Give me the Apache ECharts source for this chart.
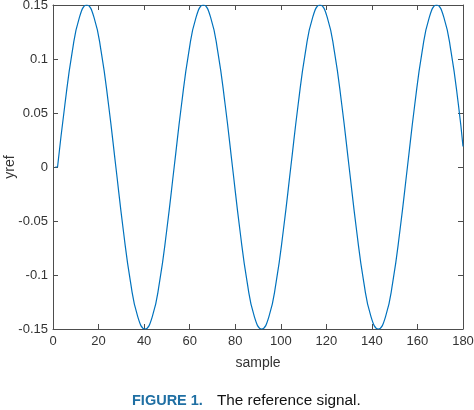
<!DOCTYPE html>
<html>
<head>
<meta charset="utf-8">
<script src="https://cdn.jsdelivr.net/npm/echarts@6/dist/echarts.min.js"></script>
<style>
html,body{margin:0;padding:0;background:#fff;}
#chart{width:474px;height:410px;}
</style>
</head>
<body>
<div id="chart"></div>
<script>
// Flat start of the signal
const startSamples = [1, 2];
const startValues = [0, 0];
// Reference signal samples (x) and values (yref)
const samples = [2, 5.2, 8.4, 11.6, 14.8, 18, 21.2, 24.4, 27.6, 30.8, 34, 37.2, 40.4, 43.6, 46.8,
  50, 53.2, 56.4, 59.6, 62.8, 66, 69.2, 72.4, 75.6, 78.8, 82, 85.2, 88.4, 91.6, 94.8,
  98, 101.2, 104.4, 107.6, 110.8, 114, 117.2, 120.4, 123.6, 126.8, 130, 133.2, 136.4, 139.6, 142.8,
  146, 149.2, 152.4, 155.6, 158.8, 162, 165.2, 168.4, 171.6, 174.8, 178, 180];
const yref = [0, 0.0574, 0.1061, 0.1386, 0.15, 0.1386, 0.1061, 0.0574, 0, -0.0574, -0.1061, -0.1386, -0.15, -0.1386, -0.1061,
  -0.0574, 0, 0.0574, 0.1061, 0.1386, 0.15, 0.1386, 0.1061, 0.0574, 0, -0.0574, -0.1061, -0.1386, -0.15, -0.1386,
  -0.1061, -0.0574, 0, 0.0574, 0.1061, 0.1386, 0.15, 0.1386, 0.1061, 0.0574, 0, -0.0574, -0.1061, -0.1386, -0.15,
  -0.1386, -0.1061, -0.0574, 0, 0.0574, 0.1061, 0.1386, 0.15, 0.1386, 0.1061, 0.0574, 0.019];
const xTicks = [0, 20, 40, 60, 80, 100, 120, 140, 160, 180];
const yTicks = [-0.15, -0.1, -0.05, 0, 0.05, 0.1, 0.15];
const xLabel = 'sample';
const yLabel = 'yref';
const captionBold = 'FIGURE 1.';
const captionText = 'The reference signal.';

const chart = echarts.init(document.getElementById('chart'), null, {renderer: 'canvas'});
const axisColor = '#4d4d4d';
const font = 'Liberation Sans, Arial, sans-serif';
const lineColor = '#0072BD';

function xAxisCfg(pos, show) {
  return {
    type: 'value', position: pos, min: 0, max: 180, interval: 20,
    axisLine: {show: true, onZero: false, lineStyle: {color: axisColor, width: 1}},
    axisTick: {show: true, inside: true, length: 5, lineStyle: {color: axisColor}},
    axisLabel: {show: show, color: '#333', fontSize: 13, fontFamily: font, margin: 6},
    splitLine: {show: false},
    name: show ? xLabel : '', nameLocation: 'middle', nameGap: 27, nameMoveOverlap: false,
    nameTextStyle: {color: '#333', fontSize: 14, fontFamily: font}
  };
}
function yAxisCfg(pos, show) {
  return {
    type: 'value', position: pos, min: -0.15, max: 0.15, interval: 0.05,
    axisLine: {show: true, onZero: false, lineStyle: {color: axisColor, width: 1}},
    axisTick: {show: true, inside: true, length: 5, lineStyle: {color: axisColor}},
    axisLabel: {show: show, color: '#333', fontSize: 13, fontFamily: font, margin: 5,
      formatter: function (v) { return String(Math.round(v * 100) / 100); }},
    splitLine: {show: false},
    name: show ? yLabel : '', nameLocation: 'middle', nameGap: 36, nameRotate: 90, nameMoveOverlap: false,
    nameTextStyle: {color: '#333', fontSize: 14, fontFamily: font}
  };
}

chart.setOption({
  animation: false,
  backgroundColor: '#fff',
  grid: {left: 53, right: 11, top: 5, bottom: 81, containLabel: false, outerBoundsMode: 'none'},
  xAxis: [xAxisCfg('bottom', true), xAxisCfg('top', false)],
  yAxis: [yAxisCfg('left', true), yAxisCfg('right', false)],
  series: [
    {
      type: 'line', xAxisIndex: 0, yAxisIndex: 0, showSymbol: false, smooth: false,
      lineStyle: {color: lineColor, width: 1.2},
      data: startSamples.map((x, i) => [x, startValues[i]])
    },
    {
      type: 'line', xAxisIndex: 0, yAxisIndex: 0, showSymbol: false, smooth: 0.5,
      lineStyle: {color: lineColor, width: 1.2},
      data: samples.map((x, i) => [x, yref[i]])
    }
  ],
  graphic: [
    {
      type: 'text', left: 132, top: 393,
      style: {text: captionBold, fontWeight: 'bold', fill: '#1f6fa3', fontSize: 14.5, fontFamily: font}
    },
    {
      type: 'text', left: 217, top: 393,
      style: {text: captionText, fill: '#111', fontSize: 15.3, fontFamily: font}
    }
  ]
});
</script>
</body>
</html>
